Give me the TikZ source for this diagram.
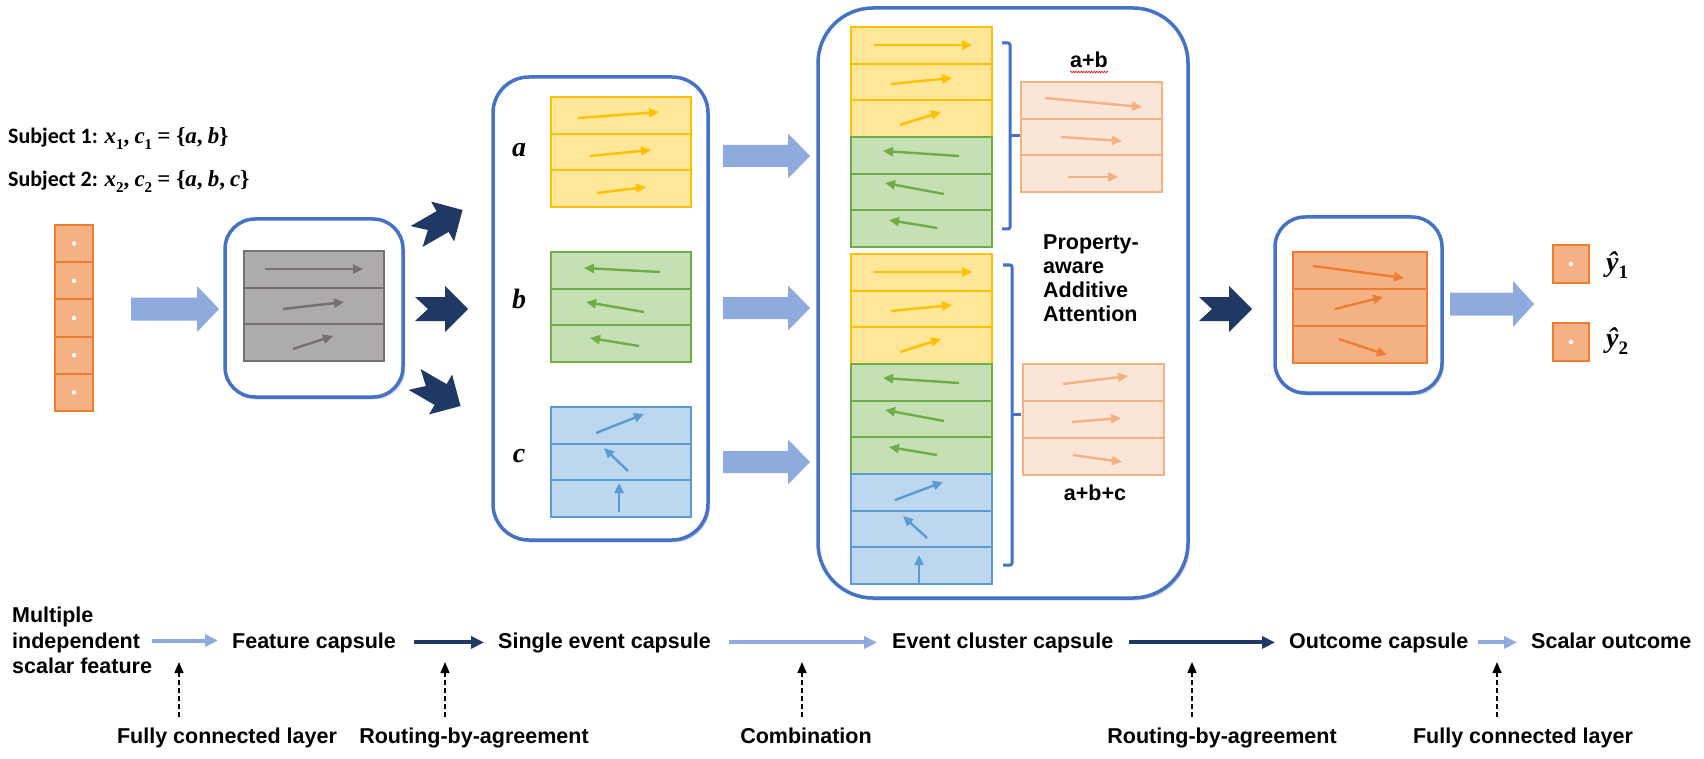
\documentclass[tikz,border=0pt]{standalone}
\usepackage{fontspec}
\newfontfamily\lsans{Liberation Sans}
\newfontfamily\carl{Carlito}
\newfontfamily\tms{Liberation Serif}
\usetikzlibrary{arrows.meta,shadows,decorations.pathmorphing}
\definecolor{capblue}{HTML}{4472C4}
\definecolor{lblue}{HTML}{8FAADC}
\definecolor{navy}{HTML}{203864}
\definecolor{yfill}{HTML}{FFE699}\definecolor{ydraw}{HTML}{FFC000}
\definecolor{gfill}{HTML}{C5E0B4}\definecolor{gdraw}{HTML}{70AD47}
\definecolor{bfill}{HTML}{BDD7EE}\definecolor{bdraw}{HTML}{5B9BD5}
\definecolor{pfill}{HTML}{FBE5D6}\definecolor{pdraw}{HTML}{F4B183}
\definecolor{ofill}{HTML}{F4B183}\definecolor{odraw}{HTML}{ED7D31}
\definecolor{grfill}{HTML}{AEABAB}\definecolor{grdraw}{HTML}{767171}
% stack of rows: x1,x2,ytop,n,h,fill,draw
\newcommand\Rows[7]{\foreach \ri in {1,...,#4}{\draw[fill=#6,draw=#7,line width=2pt] ({#1},{#3+(\ri-1)*#5}) rectangle ({#2},{#3+\ri*#5});}}
% block arrow: xs,xe,yc,headlen,shafthalf,headhalf
\newcommand\BigArr[6]{\fill[lblue] ({#1},{#3-#5}) -- ({#2-#4},{#3-#5}) -- ({#2-#4},{#3-#6}) -- ({#2},{#3}) -- ({#2-#4},{#3+#6}) -- ({#2-#4},{#3+#5}) -- ({#1},{#3+#5}) -- cycle;}
% notched chevron: x,y,angle
\newcommand\Chev[3]{\fill[navy,shift={(#1,#2)},rotate=#3] (-27,-12) -- (3,-12) -- (3,-23) -- (26,0) -- (3,23) -- (3,12) -- (-27,12) -- (-14,0) -- cycle;}
% math-like pieces in serif bold
\newcommand\MI[1]{{\tms\bfseries\itshape #1}}
\newcommand\MU[1]{{\tms\bfseries #1}}
\newcommand\SB[2][15]{\raisebox{-0.26em}{\tms\bfseries\fontsize{#1}{#1}\selectfont #2}}
\begin{document}
\begin{tikzpicture}[x=1pt,y=-1pt,
  capsule/.style={draw=capblue,line width=3.5pt,fill=white,inner sep=0pt,
    drop shadow={shadow xshift=2pt,shadow yshift=-2.5pt,opacity=0.25,fill=black!60}},
  vec/.style={draw=#1,line width=2.4pt,-{Triangle[length=10pt,width=9pt]}},
  lab/.style={font=\lsans\bfseries\fontsize{21.5}{25.5}\selectfont,inner sep=0pt},
  subj/.style={font=\carl\bfseries\fontsize{22}{26}\selectfont,inner sep=0pt},
  mathlab/.style={font=\fontsize{28}{30}\selectfont,inner sep=0pt},
  cell/.style={draw=odraw,fill=ofill,line width=2pt,inner sep=0pt},
  lbline/.style={draw=lblue,line width=4pt,-{Triangle[length=13pt,width=12pt]}},
  nvline/.style={draw=navy,line width=4pt,-{Triangle[length=13pt,width=12pt]}},
  dasharr/.style={draw=black,line width=1.4pt,dash pattern=on 5pt off 3pt,-{Triangle[length=11pt,width=9pt]},shorten <=10pt},
  brk/.style={draw=capblue,line width=3pt,rounded corners=2pt}]
\useasboundingbox (0,0) rectangle (1704,759);
\fill[white] (0,0) rectangle (1704,759);

% subject lines
\node[subj,anchor=base west] (s1) at (8,144) {Subject 1: \fontsize{23}{26}\selectfont\MI{x}\SB{1}\MU{,} \MI{c}\SB{1} \MU{= \{}\MI{a}\MU{,} \MI{b}\MU{\}}};
\node[subj,anchor=base west] (s2) at (8,187) {Subject 2: \fontsize{23}{26}\selectfont\MI{x}\SB{2}\MU{,} \MI{c}\SB{2} \MU{= \{}\MI{a}\MU{,} \MI{b}\MU{,} \MI{c}\MU{\}}};

% input column
\foreach \i in {0,...,4}{
  \node[cell,minimum width=38pt,minimum height=37.2pt] (in\i) at (74,{243.6+37.2*\i}) {};
  \fill[white] (in\i.center) circle (2.2);
}

% capsule boxes
\node[capsule,minimum width=178pt,minimum height=178pt,rounded corners=30pt] (fcap) at (314,308) {};
\node[capsule,minimum width=215pt,minimum height=463pt,rounded corners=36pt] (scap) at (600.5,308.5) {};
\node[capsule,minimum width=370pt,minimum height=590pt,rounded corners=55pt] (ccap) at (1003,303) {};
\node[capsule,minimum width=167pt,minimum height=176pt,rounded corners=30pt] (ocap) at (1358.5,305) {};

% feature capsule block
\Rows{244}{384}{251}{3}{36.67}{grfill}{grdraw}
\draw[vec=grdraw] (265,269) -- (363,269);
\draw[vec=grdraw] (283,309) -- (344,302);
\draw[vec=grdraw] (293,349) -- (333,336);

% single event capsules
\Rows{551}{691}{97}{3}{36.67}{yfill}{ydraw}
\Rows{551}{691}{252}{3}{36.67}{gfill}{gdraw}
\Rows{551}{691}{407}{3}{36.67}{bfill}{bdraw}
\draw[vec=ydraw] (578,118) -- (659,112);
\draw[vec=ydraw] (590,156) -- (651,150);
\draw[vec=ydraw] (597,193) -- (646,187);
\draw[vec=gdraw] (660,272) -- (584,268);
\draw[vec=gdraw] (644,312) -- (586,302);
\draw[vec=gdraw] (639,346) -- (590,338);
\draw[vec=bdraw] (596,433) -- (644,414);
\draw[vec=bdraw] (628,471) -- (604,448);
\draw[vec=bdraw] (619,512) -- (619,483);
\node[mathlab] (labelA) at (519,150) {\MI{a}};
\node[mathlab] (labelB) at (519,299) {\MI{b}};
\node[mathlab] (labelC) at (519,456) {\MI{c}};

% event cluster capsule
\Rows{851}{992}{27}{3}{36.67}{yfill}{ydraw}
\Rows{851}{992}{137}{3}{36.67}{gfill}{gdraw}
\Rows{851}{992}{254}{3}{36.67}{yfill}{ydraw}
\Rows{851}{992}{364}{3}{36.67}{gfill}{gdraw}
\Rows{851}{992}{474}{3}{36.67}{bfill}{bdraw}
\foreach \o in {0,227}{
  \draw[vec=ydraw] (874,{45+\o}) -- (972,{45+\o});
  \draw[vec=ydraw] (891,{84+\o}) -- (952,{78+\o});
  \draw[vec=ydraw] (900,{125+\o}) -- (941,{112+\o});
  \draw[vec=gdraw] (959,{156+\o}) -- (883,{151+\o});
  \draw[vec=gdraw] (944,{194+\o}) -- (885,{183+\o});
  \draw[vec=gdraw] (937,{228+\o}) -- (889,{220+\o});
}
\draw[vec=bdraw] (895,500) -- (943,482);
\draw[vec=bdraw] (927,538) -- (903,516);
\draw[vec=bdraw] (919,583) -- (919,555);

% brackets
\draw[brk] (1002,43) -- (1010,43) -- (1010,229) -- (1002,229);
\draw[brk] (1010,136) -- (1020,136);
\draw[brk] (1003,265) -- (1012,265) -- (1012,565) -- (1003,565);
\draw[brk] (1012,414) -- (1021,414);

% attention outputs
\Rows{1021}{1162}{82}{3}{36.67}{pfill}{pdraw}
\draw[vec=pdraw] (1045,98) -- (1142,107);
\draw[vec=pdraw] (1061,137) -- (1122,141);
\draw[vec=pdraw] (1068,177) -- (1118,177);
\Rows{1023}{1164}{364}{3}{37}{pfill}{pdraw}
\draw[vec=pdraw] (1063,384) -- (1128,376);
\draw[vec=pdraw] (1072,422) -- (1121,418);
\draw[vec=pdraw] (1073,455) -- (1122,462);
\node[lab,anchor=base] (ab) at (1089,68) {a+b};
\draw[red,line width=0.6pt,decorate,decoration={snake,amplitude=0.8pt,segment length=2.6pt}] ([yshift=-4pt]ab.base west) -- ([yshift=-4pt]ab.base east);
\node[lab,anchor=base] (abc) at (1095,500) {a+b+c};
\node[lab,anchor=north west,align=left,font=\lsans\bfseries\fontsize{21.5}{24}\selectfont] (paa) at (1043,235) {Property-\\aware\\Additive\\Attention};

% outcome capsule
\Rows{1293}{1427}{252}{3}{37}{ofill}{odraw}
\draw[vec=odraw] (1313,266) -- (1404,278);
\draw[vec=odraw] (1335,309) -- (1383,297);
\draw[vec=odraw] (1339,339) -- (1387,355);

% outputs
\node[cell,minimum width=36pt,minimum height=38pt] (y1) at (1571,264) {};
\node[cell,minimum width=36pt,minimum height=38pt] (y2) at (1571,342) {};
\fill[white] (y1.center) circle (2.2);
\fill[white] (y2.center) circle (2.2);
\node[mathlab,anchor=west] (ly1) at (1606,265) {\MI{ŷ}\SB[19]{1}};
\node[mathlab,anchor=west] (ly2) at (1606,341) {\MI{ŷ}\SB[19]{2}};

% block arrows
\BigArr{131}{219}{309}{22}{11.5}{23}
\BigArr{723}{810}{156}{22}{11}{22.5}
\BigArr{723}{810}{308}{22}{11}{22.5}
\BigArr{723}{810}{462}{22}{11}{22.5}
\BigArr{1450}{1534}{304}{21}{11.5}{23}
\Chev{440}{223}{30}
\Chev{442}{309}{0}
\Chev{438}{393}{-30}
\Chev{1226}{309}{0}

% bottom pipeline
\node[lab,anchor=north west,align=left] (multi) at (12,607) {Multiple\\independent\\scalar feature};
\node[lab,anchor=base west] (feat) at (232,648) {Feature capsule};
\node[lab,anchor=base west] (sing) at (498,648) {Single event capsule};
\node[lab,anchor=base west] (clus) at (892,648) {Event cluster capsule};
\node[lab,anchor=base west] (outc) at (1289,648) {Outcome capsule};
\node[lab,anchor=base west] (scal) at (1531,648) {Scalar outcome};
\draw[lbline,shorten >=14pt] (multi.east) -- (multi.east -| feat.west);
\draw[nvline,shorten <=18pt,shorten >=14pt] (feat.east) -- (feat.east -| sing.west);
\draw[lbline,shorten <=18pt,shorten >=15pt] (sing.east) -- (sing.east -| clus.west);
\draw[nvline,shorten <=16pt,shorten >=14pt] (clus.east) -- (clus.east -| outc.west);
\draw[lbline,shorten <=9pt,shorten >=14pt] (outc.east) -- (outc.east -| scal.west);

\node[lab,anchor=base] (fc1) at (227,743) {Fully connected layer};
\node[lab,anchor=base] (rba1) at (474,743) {Routing-by-agreement};
\node[lab,anchor=base] (comb) at (806,743) {Combination};
\node[lab,anchor=base] (rba2) at (1222,743) {Routing-by-agreement};
\node[lab,anchor=base] (fc2) at (1523,743) {Fully connected layer};
\coordinate (d1) at (179,662);
\coordinate (d2) at (445,662);
\coordinate (d3) at (802,662);
\coordinate (d4) at (1192,662);
\coordinate (d5) at (1497,662);
\draw[dasharr] (d1 |- fc1.north) -- (d1);
\draw[dasharr] (d2 |- rba1.north) -- (d2);
\draw[dasharr] (d3 |- comb.north) -- (d3);
\draw[dasharr] (d4 |- rba2.north) -- (d4);
\draw[dasharr] (d5 |- fc2.north) -- (d5);
\end{tikzpicture}
\end{document}
